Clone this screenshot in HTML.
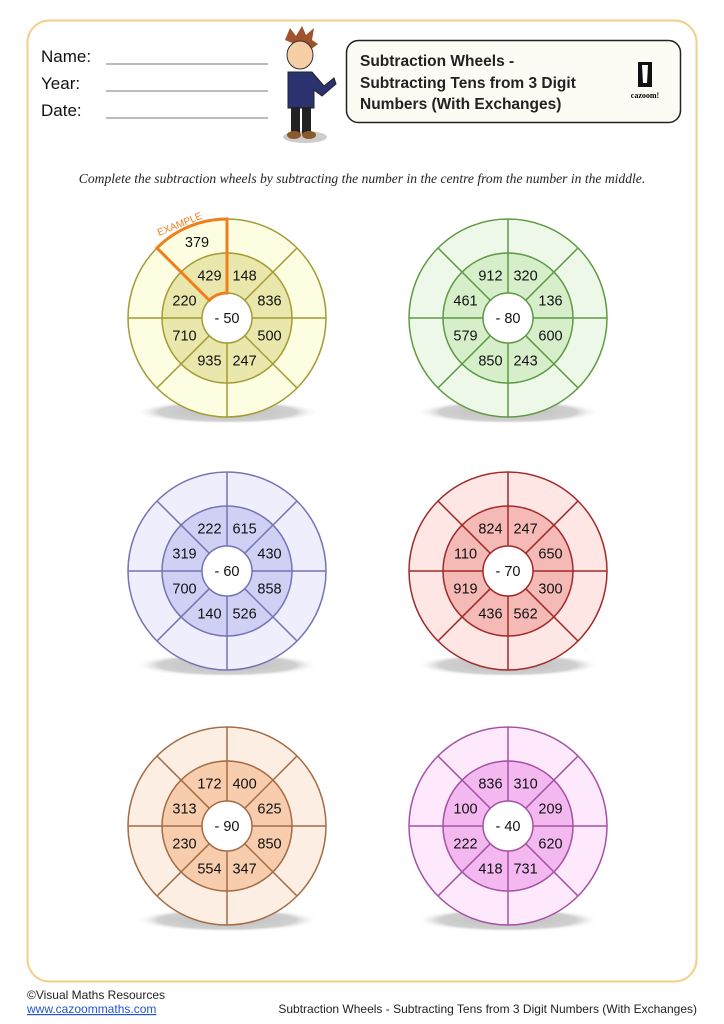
<!DOCTYPE html>
<html><head><meta charset="utf-8"><style>
body{margin:0;background:#fff;}
svg{display:block;font-family:"Liberation Sans",sans-serif;}
.n{font-size:14.5px;fill:#111;text-anchor:middle;}
</style></head><body>
<svg width="724" height="1024" viewBox="0 0 724 1024">
<defs>
<radialGradient id="sh"><stop offset="0" stop-color="#bdbdbd"/><stop offset="0.75" stop-color="#d0d0d0"/><stop offset="1" stop-color="#fff" stop-opacity="0"/></radialGradient>
</defs>
<rect x="27.5" y="20.5" width="669" height="961" rx="22" fill="none" stroke="#f3cf88" stroke-width="2"/>
<text x="41" y="62" font-size="17" fill="#111">Name:</text>
<text x="41" y="89" font-size="17" fill="#111">Year:</text>
<text x="41" y="116" font-size="17" fill="#111">Date:</text>
<g stroke="#777" stroke-width="1"><line x1="106" y1="64" x2="268" y2="64"/><line x1="106" y1="91" x2="268" y2="91"/><line x1="106" y1="118" x2="268" y2="118"/></g>
<!-- character -->
<ellipse cx="305" cy="137" rx="22" ry="6" fill="#ccc"/>
<path d="M285 40 L290 28 L296 36 L302 26 L306 35 L314 28 L312 40 L318 44 L310 50 Z" fill="#a0522d"/>
<ellipse cx="300" cy="55" rx="13" ry="14" fill="#f6cfa6" stroke="#333"/>
<path d="M288 72 L312 72 L324 86 L334 78 L336 84 L322 96 L314 90 L314 108 L288 108 Z" fill="#2c3270" stroke="#222"/>
<rect x="291" y="107" width="9" height="27" fill="#222"/><rect x="302" y="107" width="9" height="27" fill="#222"/>
<ellipse cx="294" cy="135" rx="7" ry="4" fill="#8b5a2b"/><ellipse cx="309" cy="135" rx="7" ry="4" fill="#8b5a2b"/>
<!-- title box -->
<rect x="346.5" y="40.5" width="334" height="82" rx="12" fill="#fdfcf4" stroke="#222" stroke-width="1.5"/>
<text font-size="15.5" font-weight="bold" fill="#222"><tspan x="360" y="66">Subtraction Wheels -</tspan><tspan x="360" y="88">Subtracting Tens from 3 Digit</tspan><tspan x="360" y="109">Numbers (With Exchanges)</tspan></text>
<rect x="638" y="62" width="14" height="25" fill="#111"/><path d="M642 65 h6 l-1 18 h-4 z" fill="#fff"/>
<text x="645" y="98" font-size="8" font-family="Liberation Serif,serif" font-weight="bold" text-anchor="middle">cazoom!</text>
<text x="362" y="183" font-size="13.6" font-style="italic" font-family="Liberation Serif,serif" text-anchor="middle" fill="#222">Complete the subtraction wheels by subtracting the number in the centre from the number in the middle.</text>

<!-- wheel 1 -->
<g transform="translate(227,318)" stroke="#a39c35" stroke-width="1.5">
<ellipse cx="0" cy="94" rx="92" ry="12" fill="url(#sh)" stroke="none"/>
<circle r="99" fill="#fdfde2"/><circle r="65" fill="#e9e7ab"/><circle r="25" fill="#fff"/>
<path d="M0 -25V-99M0 25V99M25 0H99M-25 0H-99M17.7 -17.7L70 -70M-17.7 -17.7L-70 -70M17.7 17.7L70 70M-17.7 17.7L-70 70" fill="none"/>
<path d="M0 -99 V-25 A25 25 0 0 0 -17.7 -17.7 L-70 -70 A99 99 0 0 1 0 -99 Z" fill="none" stroke="#f07f1a" stroke-width="3"/>
<g stroke="none"><text class="n" x="0" y="5">- 50</text>
<text class="n" x="17.6" y="-37.5">148</text><text class="n" x="42.5" y="-12.6">836</text><text class="n" x="42.5" y="22.6">500</text><text class="n" x="17.6" y="47.5">247</text><text class="n" x="-17.6" y="47.5">935</text><text class="n" x="-42.5" y="22.6">710</text><text class="n" x="-42.5" y="-12.6">220</text><text class="n" x="-17.6" y="-37.5">429</text>
<text class="n" x="-30" y="-71">379</text>
<text font-size="10" fill="#f07f1a" transform="rotate(-22 -68 -82)" x="-68" y="-82">EXAMPLE</text></g>
</g>
<!-- wheel 2 -->
<g transform="translate(508,318)" stroke="#5f9a45" stroke-width="1.5">
<ellipse cx="0" cy="94" rx="92" ry="12" fill="url(#sh)" stroke="none"/>
<circle r="99" fill="#eef8e8"/><circle r="65" fill="#d6efca"/><circle r="25" fill="#fff"/>
<path d="M0 -25V-99M0 25V99M25 0H99M-25 0H-99M17.7 -17.7L70 -70M-17.7 -17.7L-70 -70M17.7 17.7L70 70M-17.7 17.7L-70 70" fill="none"/>
<g stroke="none"><text class="n" x="0" y="5">- 80</text>
<text class="n" x="17.6" y="-37.5">320</text><text class="n" x="42.5" y="-12.6">136</text><text class="n" x="42.5" y="22.6">600</text><text class="n" x="17.6" y="47.5">243</text><text class="n" x="-17.6" y="47.5">850</text><text class="n" x="-42.5" y="22.6">579</text><text class="n" x="-42.5" y="-12.6">461</text><text class="n" x="-17.6" y="-37.5">912</text></g>
</g>
<!-- wheel 3 -->
<g transform="translate(227,571)" stroke="#7474b4" stroke-width="1.5">
<ellipse cx="0" cy="94" rx="92" ry="12" fill="url(#sh)" stroke="none"/>
<circle r="99" fill="#eeeefc"/><circle r="65" fill="#d0d0f5"/><circle r="25" fill="#fff"/>
<path d="M0 -25V-99M0 25V99M25 0H99M-25 0H-99M17.7 -17.7L70 -70M-17.7 -17.7L-70 -70M17.7 17.7L70 70M-17.7 17.7L-70 70" fill="none"/>
<g stroke="none"><text class="n" x="0" y="5">- 60</text>
<text class="n" x="17.6" y="-37.5">615</text><text class="n" x="42.5" y="-12.6">430</text><text class="n" x="42.5" y="22.6">858</text><text class="n" x="17.6" y="47.5">526</text><text class="n" x="-17.6" y="47.5">140</text><text class="n" x="-42.5" y="22.6">700</text><text class="n" x="-42.5" y="-12.6">319</text><text class="n" x="-17.6" y="-37.5">222</text></g>
</g>
<!-- wheel 4 -->
<g transform="translate(508,571)" stroke="#a02a2a" stroke-width="1.5">
<ellipse cx="0" cy="94" rx="92" ry="12" fill="url(#sh)" stroke="none"/>
<circle r="99" fill="#fde6e4"/><circle r="65" fill="#f5b9b6"/><circle r="25" fill="#fff"/>
<path d="M0 -25V-99M0 25V99M25 0H99M-25 0H-99M17.7 -17.7L70 -70M-17.7 -17.7L-70 -70M17.7 17.7L70 70M-17.7 17.7L-70 70" fill="none"/>
<g stroke="none"><text class="n" x="0" y="5">- 70</text>
<text class="n" x="17.6" y="-37.5">247</text><text class="n" x="42.5" y="-12.6">650</text><text class="n" x="42.5" y="22.6">300</text><text class="n" x="17.6" y="47.5">562</text><text class="n" x="-17.6" y="47.5">436</text><text class="n" x="-42.5" y="22.6">919</text><text class="n" x="-42.5" y="-12.6">110</text><text class="n" x="-17.6" y="-37.5">824</text></g>
</g>
<!-- wheel 5 -->
<g transform="translate(227,826)" stroke="#a36c45" stroke-width="1.5">
<ellipse cx="0" cy="94" rx="92" ry="12" fill="url(#sh)" stroke="none"/>
<circle r="99" fill="#fdeee3"/><circle r="65" fill="#f8cdae"/><circle r="25" fill="#fff"/>
<path d="M0 -25V-99M0 25V99M25 0H99M-25 0H-99M17.7 -17.7L70 -70M-17.7 -17.7L-70 -70M17.7 17.7L70 70M-17.7 17.7L-70 70" fill="none"/>
<g stroke="none"><text class="n" x="0" y="5">- 90</text>
<text class="n" x="17.6" y="-37.5">400</text><text class="n" x="42.5" y="-12.6">625</text><text class="n" x="42.5" y="22.6">850</text><text class="n" x="17.6" y="47.5">347</text><text class="n" x="-17.6" y="47.5">554</text><text class="n" x="-42.5" y="22.6">230</text><text class="n" x="-42.5" y="-12.6">313</text><text class="n" x="-17.6" y="-37.5">172</text></g>
</g>
<!-- wheel 6 -->
<g transform="translate(508,826)" stroke="#a452a4" stroke-width="1.5">
<ellipse cx="0" cy="94" rx="92" ry="12" fill="url(#sh)" stroke="none"/>
<circle r="99" fill="#fde8fc"/><circle r="65" fill="#f3b8ef"/><circle r="25" fill="#fff"/>
<path d="M0 -25V-99M0 25V99M25 0H99M-25 0H-99M17.7 -17.7L70 -70M-17.7 -17.7L-70 -70M17.7 17.7L70 70M-17.7 17.7L-70 70" fill="none"/>
<g stroke="none"><text class="n" x="0" y="5">- 40</text>
<text class="n" x="17.6" y="-37.5">310</text><text class="n" x="42.5" y="-12.6">209</text><text class="n" x="42.5" y="22.6">620</text><text class="n" x="17.6" y="47.5">731</text><text class="n" x="-17.6" y="47.5">418</text><text class="n" x="-42.5" y="22.6">222</text><text class="n" x="-42.5" y="-12.6">100</text><text class="n" x="-17.6" y="-37.5">836</text></g>
</g>

<text x="27" y="999" font-size="12" fill="#222">©Visual Maths Resources</text>
<text x="27" y="1013" font-size="12" fill="#2255cc" text-decoration="underline">www.cazoommaths.com</text>
<text x="697" y="1013" font-size="12" fill="#222" text-anchor="end">Subtraction Wheels - Subtracting Tens from 3 Digit Numbers (With Exchanges)</text>
</svg>
</body></html>
